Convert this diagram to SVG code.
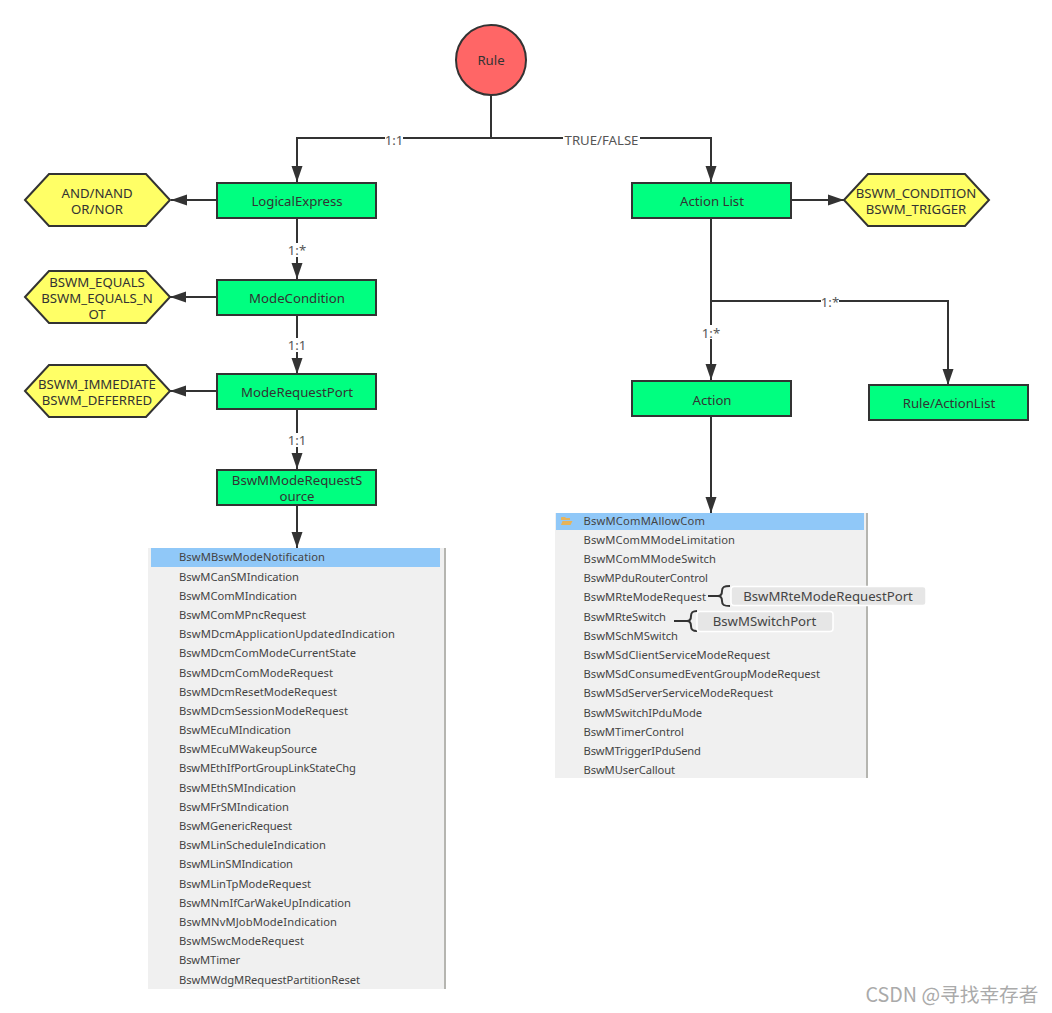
<svg xmlns="http://www.w3.org/2000/svg" width="1052" height="1013" viewBox="0 0 1052 1013">
<style>
text{font-family:"Noto Sans","Open Sans","Liberation Sans",sans-serif;fill:#333;font-size:13.2px;text-anchor:middle}
.n{fill:#00ff80;stroke:#333;stroke-width:2}
.h{fill:#ffff66;stroke:#333;stroke-width:2}
.c{fill:none;stroke:#333;stroke-width:2}
.bk{fill:none;stroke:#333;stroke-width:2}
.lb text{fill:#555}
.li text{text-anchor:start;font-size:11.2px;fill:#444}
.panel{fill:#f0f0f0}
.sel{fill:#90c8f8}
.tag{fill:#e6e6e6;stroke:#fff;stroke-width:1.5}
.tt{fill:#444}
</style>
<defs><marker id="a" markerUnits="userSpaceOnUse" markerWidth="17" markerHeight="12" refX="16" refY="6" orient="auto"><path d="M0 .5L16 6L0 11.5Z" fill="#333"/></marker></defs>
<rect width="1052" height="1013" fill="#fff"/>
<g id="connectors">
<path class="c" d="M491 96V138H297V182" marker-end="url(#a)"/>
<path class="c" d="M491 138H711V182" marker-end="url(#a)"/>
<path class="c" d="M217 200H171" marker-end="url(#a)"/>
<path class="c" d="M297 218V279" marker-end="url(#a)"/>
<path class="c" d="M217 297H170" marker-end="url(#a)"/>
<path class="c" d="M297 315V374" marker-end="url(#a)"/>
<path class="c" d="M217 391H170" marker-end="url(#a)"/>
<path class="c" d="M297 409V469" marker-end="url(#a)"/>
<path class="c" d="M297 505V548" marker-end="url(#a)"/>
<path class="c" d="M791 200H844" marker-end="url(#a)"/>
<path class="c" d="M711 218V380" marker-end="url(#a)"/>
<path class="c" d="M711 301H948V385" marker-end="url(#a)"/>
<path class="c" d="M711 416V513" marker-end="url(#a)"/>
<g class="lb">
<rect x="385" y="132" width="18" height="14" fill="#fff"/><text x="394" y="145">1:1</text>
<rect x="563" y="132" width="77" height="14" fill="#fff"/><text x="601.5" y="145">TRUE/FALSE</text>
<rect x="288" y="243" width="18" height="14" fill="#fff"/><text x="297" y="255">1:*</text>
<rect x="288" y="338" width="18" height="14" fill="#fff"/><text x="297" y="350">1:1</text>
<rect x="288" y="433" width="18" height="14" fill="#fff"/><text x="297" y="445">1:1</text>
<rect x="702" y="325" width="18" height="14" fill="#fff"/><text x="711" y="338">1:*</text>
<rect x="821" y="295" width="18" height="14" fill="#fff"/><text x="830" y="307">1:*</text>
</g>
</g>
<g id="rule"><circle cx="491" cy="60" r="35" fill="#ff6666" stroke="#333" stroke-width="2"/><text x="491" y="65">Rule</text></g>
<g id="logical"><rect class="n" x="217" y="183" width="159" height="35"/><text x="297" y="206">LogicalExpress</text></g>
<g id="modecond"><rect class="n" x="217" y="280" width="159" height="35"/><text x="297" y="303">ModeCondition</text></g>
<g id="modereq"><rect class="n" x="217" y="374" width="159" height="35"/><text x="297" y="397">ModeRequestPort</text></g>
<g id="source"><rect class="n" x="217" y="470" width="159" height="35"/><text x="297" y="485">BswMModeRequestS</text><text x="297" y="501">ource</text></g>
<g id="actionlist"><rect class="n" x="632" y="183" width="159" height="35"/><text x="712" y="206">Action List</text></g>
<g id="action"><rect class="n" x="632" y="381" width="159" height="35"/><text x="712" y="405">Action</text></g>
<g id="ruleactionlist"><rect class="n" x="869" y="385" width="159" height="35"/><text x="949" y="408">Rule/ActionList</text></g>
<g id="h1"><path class="h" d="M25 200L49 174H146L170 200L146 226H49Z"/><text x="97" y="198">AND/NAND</text><text x="97" y="214">OR/NOR</text></g>
<g id="h2"><path class="h" d="M25 297L49 271H146L170 297L146 323H49Z"/><text x="97" y="287">BSWM_EQUALS</text><text x="97" y="303">BSWM_EQUALS_N</text><text x="97" y="319">OT</text></g>
<g id="h3"><path class="h" d="M25 391L49 365H146L170 391L146 417H49Z"/><text x="97" y="389">BSWM_IMMEDIATE</text><text x="97" y="405">BSWM_DEFERRED</text></g>
<g id="h4"><path class="h" d="M844 200L868 174H965L989 200L965 226H868Z"/><text x="916" y="198">BSWM_CONDITION</text><text x="916" y="214">BSWM_TRIGGER</text></g>
<g id="list-left" class="li">
<rect class="panel" x="148" y="548" width="297" height="441"/>
<rect x="444" y="548" width="2" height="441" fill="#b5b5b0"/>
<rect class="sel" x="151" y="548" width="289" height="19"/>
<text x="179" y="561" textLength="146">BswMBswModeNotification</text>
<text x="179" y="581" textLength="120">BswMCanSMIndication</text>
<text x="179" y="600" textLength="118">BswMComMIndication</text>
<text x="179" y="619" textLength="127">BswMComMPncRequest</text>
<text x="179" y="638" textLength="216">BswMDcmApplicationUpdatedIndication</text>
<text x="179" y="657" textLength="177">BswMDcmComModeCurrentState</text>
<text x="179" y="677" textLength="154">BswMDcmComModeRequest</text>
<text x="179" y="696" textLength="158">BswMDcmResetModeRequest</text>
<text x="179" y="715" textLength="169">BswMDcmSessionModeRequest</text>
<text x="179" y="734" textLength="112">BswMEcuMIndication</text>
<text x="179" y="753" textLength="138">BswMEcuMWakeupSource</text>
<text x="179" y="772" textLength="177">BswMEthIfPortGroupLinkStateChg</text>
<text x="179" y="792" textLength="117">BswMEthSMIndication</text>
<text x="179" y="811" textLength="110">BswMFrSMIndication</text>
<text x="179" y="830" textLength="113">BswMGenericRequest</text>
<text x="179" y="849" textLength="147">BswMLinScheduleIndication</text>
<text x="179" y="868" textLength="114">BswMLinSMIndication</text>
<text x="179" y="888" textLength="132">BswMLinTpModeRequest</text>
<text x="179" y="907" textLength="172">BswMNmIfCarWakeUpIndication</text>
<text x="179" y="926" textLength="158">BswMNvMJobModeIndication</text>
<text x="179" y="945" textLength="125">BswMSwcModeRequest</text>
<text x="179" y="964" textLength="61">BswMTimer</text>
<text x="179" y="984" textLength="181">BswMWdgMRequestPartitionReset</text>
</g>
<g id="list-right" class="li">
<rect class="panel" x="555" y="513" width="312" height="265"/>
<rect x="866" y="513" width="2" height="265" fill="#b5b5b0"/>
<rect class="sel" x="556" y="513" width="308" height="17"/>
<path d="M561 518q0-1 1-1h3l1 1h4v2h-9zM561 525l1.500-4h10l-2 4z" fill="#e6b35a"/>
<text x="583.500" y="525" textLength="121.500">BswMComMAllowCom</text>
<text x="583.500" y="544" textLength="151.500">BswMComMModeLimitation</text>
<text x="583.500" y="563" textLength="132.500">BswMComMModeSwitch</text>
<text x="583.500" y="582" textLength="124.500">BswMPduRouterControl</text>
<text x="583.500" y="601" textLength="122.500">BswMRteModeRequest</text>
<text x="583.500" y="621" textLength="82.500">BswMRteSwitch</text>
<text x="583.500" y="640" textLength="94.500">BswMSchMSwitch</text>
<text x="583.500" y="659" textLength="186.500">BswMSdClientServiceModeRequest</text>
<text x="583.500" y="678" textLength="236.500">BswMSdConsumedEventGroupModeRequest</text>
<text x="583.500" y="697" textLength="189.500">BswMSdServerServiceModeRequest</text>
<text x="583.500" y="717" textLength="118.500">BswMSwitchIPduMode</text>
<text x="583.500" y="736" textLength="100.500">BswMTimerControl</text>
<text x="583.500" y="755" textLength="117.500">BswMTriggerIPduSend</text>
<text x="583.500" y="774" textLength="91.500">BswMUserCallout</text>
</g>
<g id="tag1"><path class="bk" d="M708 596H718C721 596 722 594 722 591C722 587 724 586 730 586M718 596C721 596 722 598 722 601C722 605 724 606 730 606"/><rect class="tag" x="731" y="586.500" width="195" height="19" rx="3"/><text class="tt" x="828" y="601">BswMRteModeRequestPort</text></g>
<g id="tag2"><path class="bk" d="M674 621H687C690 621 691 619 691 616C691 612 693 611 697 611M687 621C690 621 691 623 691 626C691 630 693 631 697 631"/><rect class="tag" x="697" y="611.500" width="136" height="20" rx="3"/><text class="tt" x="764.500" y="626">BswMSwitchPort</text></g>
<text x="952" y="1002" style="font-family:'Noto Sans CJK SC','Noto Sans',sans-serif;font-size:19.7px;fill:#aaa">CSDN @寻找幸存者</text>
</svg>
